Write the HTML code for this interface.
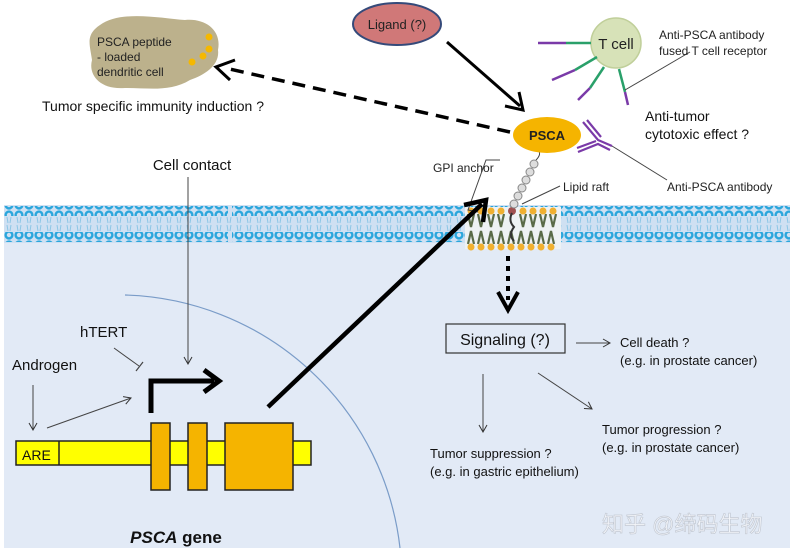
<!DOCTYPE html>
<html><head><meta charset="utf-8"><style>
html,body{margin:0;padding:0;background:#fff}
svg{display:block}
text{font-family:"Liberation Sans","Noto Sans CJK SC",sans-serif}
</style></head><body>
<svg width="794" height="556" viewBox="0 0 794 556" xmlns="http://www.w3.org/2000/svg">
<defs>
<pattern id="mem" x="4" y="0" width="10" height="10" patternUnits="userSpaceOnUse">
<circle cx="5" cy="5" r="3.4" fill="none" stroke="#2aa6dc" stroke-width="2.4"/>
</pattern>
<pattern id="tail" x="4" y="0" width="10" height="8" patternUnits="userSpaceOnUse">
<path d="M3 1 L4 7 M7 1 L6 7" stroke="#8cc6e6" stroke-width="1"/>
</pattern>
<marker id="ah" markerWidth="10" markerHeight="10" refX="8" refY="5" orient="auto" markerUnits="userSpaceOnUse">
<path d="M1 1 L8 5 L1 9" fill="none" stroke="#333" stroke-width="1"/>
</marker>
</defs>
<rect x="4" y="243" width="786" height="305" fill="#e2eaf6"/>
<rect x="4" y="205" width="786" height="38" fill="#cfe0f2"/>
<rect x="4" y="206" width="224" height="10" fill="url(#mem)"/>
<rect x="232" y="206" width="558" height="10" fill="url(#mem)"/>
<rect x="4" y="232" width="224" height="10" fill="url(#mem)"/>
<rect x="232" y="232" width="558" height="10" fill="url(#mem)"/>
<rect x="4" y="217" width="786" height="14" fill="url(#tail)"/>
<!-- lipid raft -->
<rect x="465" y="207" width="96" height="42" fill="#eef2f4"/>
<g stroke="#5a6b48" stroke-width="2.2" fill="none">
<path d="M468 214 l3 13 l3 -13 M478 214 l3 13 l3 -13 M488 214 l3 13 l3 -13 M498 214 l3 13 l3 -13 M520 214 l3 13 l3 -13 M530 214 l3 13 l3 -13 M540 214 l3 13 l3 -13 M550 214 l3 13 l3 -13"/>
<path d="M468 244 l3 -13 l3 13 M478 244 l3 -13 l3 13 M488 244 l3 -13 l3 13 M498 244 l3 -13 l3 13 M508 244 l3 -13 l3 13 M518 244 l3 -13 l3 13 M528 244 l3 -13 l3 13 M538 244 l3 -13 l3 13 M548 244 l3 -13 l3 13"/>
</g>
<g fill="#f0b030">
<circle cx="471" cy="211" r="3.5"/><circle cx="481" cy="211" r="3.5"/><circle cx="491" cy="211" r="3.5"/><circle cx="501" cy="211" r="3.5"/><circle cx="523" cy="211" r="3.5"/><circle cx="533" cy="211" r="3.5"/><circle cx="543" cy="211" r="3.5"/><circle cx="553" cy="211" r="3.5"/>
<circle cx="471" cy="247" r="3.5"/><circle cx="481" cy="247" r="3.5"/><circle cx="491" cy="247" r="3.5"/><circle cx="501" cy="247" r="3.5"/><circle cx="511" cy="247" r="3.5"/><circle cx="521" cy="247" r="3.5"/><circle cx="531" cy="247" r="3.5"/><circle cx="541" cy="247" r="3.5"/><circle cx="551" cy="247" r="3.5"/>
</g>
<circle cx="512" cy="211" r="4" fill="#a05050"/>
<path d="M512 213 q-4 8 2 14 q-6 8 0 14" stroke="#333" stroke-width="2" fill="none"/>
<g fill="#ddd" stroke="#888" stroke-width="1">
<circle cx="514" cy="204" r="4"/><circle cx="518" cy="196" r="4"/><circle cx="522" cy="188" r="4"/><circle cx="526" cy="180" r="4"/><circle cx="530" cy="172" r="4"/><circle cx="534" cy="164" r="4"/>
</g>
<path d="M536 160 q6 -6 2 -10 q6 -4 4 -10 q8 -2 4 -8" stroke="#444" stroke-width="1" fill="none"/>
<path d="M500 160 L486 160 L468 210 L478 212" stroke="#444" stroke-width="1" fill="none"/>
<text x="433" y="172" font-size="12" fill="#222">GPI anchor</text>
<path d="M522 204 L560 186" stroke="#444" stroke-width="1"/>
<text x="563" y="191" font-size="12" fill="#222">Lipid raft</text>
<path d="M125 295 A285 285 0 0 1 400 548" stroke="#7a9cc8" stroke-width="1.2" fill="none"/>
<path d="M100 25 C120 10 160 18 185 20 C205 18 222 30 218 50 C220 65 205 75 190 80 C170 92 150 88 125 88 C100 90 88 75 92 60 C90 45 85 35 100 25 Z" fill="#bcb18c"/>
<g fill="#f5b800"><circle cx="209" cy="37" r="3.5"/><circle cx="209" cy="49" r="3.5"/><circle cx="203" cy="56" r="3.5"/><circle cx="192" cy="62" r="3.5"/></g>
<text x="97" y="46" font-size="12" fill="#222">PSCA peptide</text>
<text x="97" y="61" font-size="12" fill="#222">- loaded</text>
<text x="97" y="76" font-size="12" fill="#222">dendritic cell</text>
<text x="42" y="111" font-size="14" fill="#111">Tumor specific immunity induction ?</text>
<path d="M510 132 L225 68" stroke="#000" stroke-width="3.5" stroke-dasharray="13 8" fill="none"/>
<path d="M235 60 L216 67 L230 80" stroke="#000" stroke-width="3" fill="none"/>
<ellipse cx="397" cy="24" rx="44" ry="21" fill="#d07878" stroke="#354a7a" stroke-width="2"/>
<text x="397" y="29" font-size="13" fill="#222" text-anchor="middle">Ligand (?)</text>
<path d="M447 42 L520 106" stroke="#000" stroke-width="3"/>
<path d="M505 106 L523 110 L519 92" stroke="#000" stroke-width="3" fill="none"/>
<ellipse cx="547" cy="135" rx="34" ry="18" fill="#f5b400"/>
<text x="547" y="140" font-size="13" font-weight="bold" fill="#222" text-anchor="middle">PSCA</text>
<g stroke="#7a3aa8" stroke-width="2.2" fill="none">
<path d="M583 122 L598 140 L612 146"/><path d="M587 120 L601 137"/>
<path d="M578 152 L598 144 L610 150"/><path d="M577 148 L596 141"/>
</g>
<path d="M612 146 L667 180" stroke="#444" stroke-width="1"/>
<text x="667" y="191" font-size="12" fill="#222">Anti-PSCA antibody</text>
<circle cx="616" cy="43" r="25" fill="#d7e2b8" stroke="#c0cf9a" stroke-width="1.5"/>
<text x="616" y="49" font-size="15" fill="#222" text-anchor="middle">T cell</text>
<g stroke-width="2.5" fill="none">
<path d="M591 43 L566 43" stroke="#2aa06a"/><path d="M566 43 L538 43" stroke="#7a3aa8"/>
<path d="M597 57 L575 70" stroke="#2aa06a"/><path d="M575 70 L552 80" stroke="#7a3aa8"/>
<path d="M604 67 L590 88" stroke="#2aa06a"/><path d="M590 88 L578 100" stroke="#7a3aa8"/>
<path d="M619 69 L625 92" stroke="#2aa06a"/><path d="M625 92 L628 105" stroke="#7a3aa8"/>
</g>
<path d="M625 90 L690 52" stroke="#444" stroke-width="1"/>
<text x="659" y="39" font-size="12" fill="#222">Anti-PSCA antibody</text>
<text x="659" y="55" font-size="12" fill="#222">fused T cell receptor</text>
<text x="645" y="121" font-size="14" fill="#111">Anti-tumor</text>
<text x="645" y="139" font-size="14" fill="#111">cytotoxic effect ?</text>
<text x="192" y="170" font-size="15" fill="#111" text-anchor="middle">Cell contact</text>
<path d="M188 177 L188 364" stroke="#444" stroke-width="1" marker-end="url(#ah)"/>
<path d="M508 256 L508 300" stroke="#000" stroke-width="4" stroke-dasharray="5 5"/>
<path d="M498 292 L508 310 L518 292" stroke="#000" stroke-width="4" fill="none"/>
<path d="M268 407 L482 204" stroke="#000" stroke-width="4.5"/>
<path d="M464 205 L486 200 L483 222" stroke="#000" stroke-width="4.5" fill="none"/>
<rect x="446" y="324" width="119" height="29" fill="none" stroke="#333" stroke-width="1.2"/>
<text x="505" y="345" font-size="16" fill="#111" text-anchor="middle">Signaling (?)</text>
<path d="M576 343 L610 343" stroke="#444" stroke-width="1" marker-end="url(#ah)"/>
<text x="620" y="347" font-size="13" fill="#111">Cell death ?</text>
<text x="620" y="365" font-size="13" fill="#111">(e.g. in prostate cancer)</text>
<path d="M483 374 L483 432" stroke="#444" stroke-width="1" marker-end="url(#ah)"/>
<path d="M538 373 L592 409" stroke="#444" stroke-width="1" marker-end="url(#ah)"/>
<text x="602" y="434" font-size="13" fill="#111">Tumor progression ?</text>
<text x="602" y="452" font-size="13" fill="#111">(e.g. in prostate cancer)</text>
<text x="430" y="458" font-size="13" fill="#111">Tumor suppression ?</text>
<text x="430" y="476" font-size="13" fill="#111">(e.g. in gastric epithelium)</text>
<text x="80" y="337" font-size="15" fill="#111">hTERT</text>
<path d="M114 348 L139 366" stroke="#444" stroke-width="1"/>
<path d="M136 371 L143 362" stroke="#444" stroke-width="1.2"/>
<text x="12" y="370" font-size="15" fill="#111">Androgen</text>
<path d="M33 385 L33 430" stroke="#444" stroke-width="1" marker-end="url(#ah)"/>
<path d="M47 428 L131 398" stroke="#444" stroke-width="1" marker-end="url(#ah)"/>
<rect x="16" y="441" width="295" height="24" fill="#ffff00" stroke="#222" stroke-width="1.5"/>
<line x1="59" y1="441" x2="59" y2="465" stroke="#222" stroke-width="1.5"/>
<text x="22" y="460" font-size="14" fill="#111">ARE</text>
<rect x="151" y="423" width="19" height="67" fill="#f5b400" stroke="#222" stroke-width="1.5"/>
<rect x="188" y="423" width="19" height="67" fill="#f5b400" stroke="#222" stroke-width="1.5"/>
<rect x="225" y="423" width="68" height="67" fill="#f5b400" stroke="#222" stroke-width="1.5"/>
<path d="M151 413 L151 381 L214 381" stroke="#000" stroke-width="5" fill="none"/>
<path d="M204 370 L219 381 L204 392" stroke="#000" stroke-width="5" fill="none"/>
<text x="176" y="543" font-size="17" font-weight="bold" fill="#111" text-anchor="middle"><tspan font-style="italic">PSCA</tspan> gene</text>
<text x="602" y="532" font-size="22" fill="#f4f6fa" stroke="#c4cad4" stroke-width="0.7">知乎 @缔码生物</text>
</svg>
</body></html>
